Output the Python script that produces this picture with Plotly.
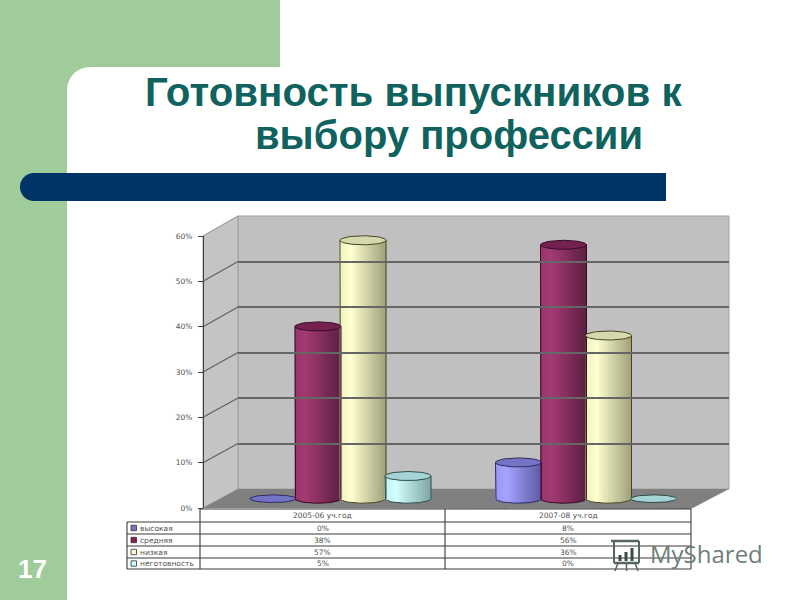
import numpy as np
import plotly.graph_objects as go

# ---------- data ----------
periods = ["2005-06 уч.год", "2007-08 уч.год"]
levels = ["высокая", "средняя", "низкая", "неготовность"]
vysokaya = [0, 8]
srednyaya = [38, 56]
nizkaya = [57, 36]
negotovnost = [5, 0]
tick_values = [0, 10, 20, 30, 40, 50, 60]
tick_labels = ["0%", "10%", "20%", "30%", "40%", "50%", "60%"]
title_lines = ["Готовность выпускников к", "выбору профессии"]
slide_number = "17"
watermark = "MyShared"

series = [vysokaya, srednyaya, nizkaya, negotovnost]

# ---------- styles ----------
W, H = 800, 600
light = ["#a4a4ff", "#a33a72", "#ffffcf", "#d2ffff"]
dark = ["#5c5ca4", "#5c1f42", "#a0a07c", "#7fa6a6"]
cap = ["#7474c4", "#75214f", "#d6d8ae", "#a6d4d4"]
edge = ["#2c2c60", "#360c26", "#46461e", "#2c4c4c"]
swatch = ["#7878c0", "#802050", "#ffffcc", "#ccffff"]


def px(x):
    return x / W


def py(y):
    return 1 - y / H


def rect(x0, y0, x1, y1, color, **kw):
    return dict(type="rect", xref="paper", yref="paper", x0=px(x0), x1=px(x1), y0=py(y0), y1=py(y1),
                fillcolor=color, line=dict(width=0), layer=kw.get("layer", "below"))


def poly(points, fill, line="rgba(0,0,0,0)", width=0, layer="below"):
    d = "M " + " L ".join(f"{px(a):.5f},{py(b):.5f}" for a, b in points) + " Z"
    return dict(type="path", xref="paper", yref="paper", path=d, fillcolor=fill,
                line=dict(color=line, width=width), layer=layer)


def seg(x0, y0, x1, y1, color, width=1, layer="below"):
    return dict(type="line", xref="paper", yref="paper", x0=px(x0), x1=px(x1), y0=py(y0), y1=py(y1),
                line=dict(color=color, width=width), layer=layer)


shapes = []
GREEN = "#a0cc9b"
shapes += [rect(0, 0, 67, 600, GREEN), rect(0, 0, 280, 67, GREEN)]
# rounded inner corner of the white panel
corner = [(67, 67), (67, 90)] + [(67 + 23 - 23 * np.cos(a), 90 - 23 * np.sin(a)) for a in np.linspace(0, np.pi / 2, 12)]
shapes.append(poly(corner[0:1] + corner[1:] + [(90, 67)], GREEN))
# navy bar
navy = "#003366"
shapes.append(rect(34, 173, 666, 201, navy))
shapes.append(dict(type="circle", xref="paper", yref="paper", x0=px(20), x1=px(48), y0=py(173), y1=py(201),
                   fillcolor=navy, line=dict(width=0), layer="below"))

# 3D box of the chart
shapes.append(poly([(238, 216), (729, 216), (729, 489), (238, 489)], "#c0c0c0", "#a0a0a0", 1))
shapes.append(poly([(203, 236), (238, 216), (238, 489), (203, 508)], "#c4c4c4", "#a0a0a0", 1))
shapes.append(poly([(203, 508), (238, 489), (729, 489), (691, 509)], "#808080"))
for v in tick_values[1:-1]:
    shapes.append(seg(203, 508 - v * 272 / 60, 238, 489 - v * 273 / 60, "#606060", 1.2))
shapes.append(seg(203, 236, 238, 216, "#a0a0a0", 1))

# table
TX = [127, 200, 445, 691]
TY = [509, 522, 534, 546, 558, 569]
TC = "#3a3a3a"
for y in TY[1:]:
    shapes.append(seg(TX[0], y, TX[3], y, TC, 1.1))
shapes.append(seg(TX[1], TY[0], TX[3], TY[0], TC, 1.1))
shapes.append(seg(TX[0], TY[1], TX[0], TY[5], TC, 1.1))
for x in TX[1:]:
    shapes.append(seg(x, TY[0], x, TY[5], TC, 1.1))
for i in range(4):
    yc = (TY[i + 1] + TY[i + 2]) / 2
    shapes.append(dict(type="rect", xref="paper", yref="paper", x0=px(131), x1=px(136.5), y0=py(yc - 2.7), y1=py(yc + 2.7),
                       fillcolor=swatch[i], line=dict(color="#303030", width=0.8), layer="below"))

# watermark pictogram
WM = "#56665e"
for s in [
    seg(611, 541, 639, 541, WM, 2.5, "above"),
    seg(614, 541, 614, 563, WM, 2, "above"),
    seg(639, 541, 639, 563, WM, 2, "above"),
    seg(614, 563, 639, 563, WM, 2.5, "above"),
    seg(618, 563, 615, 571, WM, 1.5, "above"),
    seg(635, 563, 638, 571, WM, 1.5, "above"),
    seg(626.5, 563, 626.5, 571, WM, 1.5, "above"),
    seg(620, 555, 620, 561, "#3c4a44", 3, "above"),
    seg(626, 552, 626, 561, "#3c4a44", 3, "above"),
    seg(632, 548, 632, 561, "#3c4a44", 3, "above"),
]:
    shapes.append(s)

# ---------- annotations ----------
annotations = []


def note(x, y, text, size, color, bold=False, anchor="left", family="Liberation Sans"):
    annotations.append(dict(xref="paper", yref="paper", x=px(x), y=py(y), text=f"<b>{text}</b>" if bold else text,
                            showarrow=False, xanchor=anchor, yanchor="middle",
                            font=dict(size=size, color=color, family=family)))


TITLE = "#0f625e"
note(143, 92, title_lines[0], 40.3, TITLE, True)
note(253, 135, title_lines[1], 40, TITLE, True)
note(32, 569, slide_number, 26, "white", True, "center")
note(648, 553, watermark, 24, "#6f7f78", False, "left", "Open Sans")

TXT = "#505050"
for i, name in enumerate(periods):
    note((TX[i + 1] + TX[i + 2]) / 2, (TY[0] + TY[1]) / 2, name, 7.5, TXT, False, "center", "DejaVu Sans")
for r, name in enumerate(levels):
    yc = (TY[r + 1] + TY[r + 2]) / 2
    note(138, yc, name, 7.5, TXT, False, "left", "DejaVu Sans")
    for c in range(2):
        note((TX[c + 1] + TX[c + 2]) / 2, yc, f"{series[r][c]}%", 7.5, TXT, False, "center", "DejaVu Sans")

# ---------- traces ----------
fig = go.Figure()
PX_PER_GROUP = 245.5
BAR_W = 46 / PX_PER_GROUP
STEP = 45 / PX_PER_GROUP
PPU = 272 / 60
ZERO_Y = 498.7
EH = 4.5 / PPU  # ellipse half height in value units
N = 18


def mix(a, b, t):
    ca = [int(a[i:i + 2], 16) for i in (1, 3, 5)]
    cb = [int(b[i:i + 2], 16) for i in (1, 3, 5)]
    return "rgb(" + ",".join(str(int(p + (q - p) * t)) for p, q in zip(ca, cb)) + ")"


for s, vals in enumerate(series):
    xs, ys, bases, cols = [], [], [], []
    for g, v in enumerate(vals):
        cx = g + (s - 1.5) * STEP
        if v > 0:
            for k in range(N):
                t = -1 + (2 * k + 1) / N
                xs.append(cx + t * BAR_W / 2)
                b = -EH * np.sqrt(max(0.0, 1 - t * t))
                bases.append(b)
                ys.append(v - b)
                if t < -0.5:
                    cols.append(mix(light[s], dark[s], (-0.5 - t) * 0.3))
                else:
                    cols.append(mix(light[s], dark[s], (t + 0.5) / 1.5))
    if xs:
        fig.add_trace(go.Bar(x=xs, y=ys, base=bases, width=BAR_W / N * 1.25, marker=dict(color=cols, line=dict(width=0)),
                             xaxis="x", yaxis="y", hoverinfo="skip", showlegend=False))

for s, vals in enumerate(series):
    for g, v in enumerate(vals):
        cx = g + (s - 1.5) * STEP
        a = np.linspace(0, 2 * np.pi, 60)
        fig.add_trace(go.Scatter(x=cx + BAR_W / 2 * np.cos(a), y=v + EH * (0.85 if v == 0 else 1) * np.sin(a),
                                 mode="lines", fill="toself", fillcolor=cap[s],
                                 line=dict(color=edge[s], width=1), hoverinfo="skip", showlegend=False))
        if v > 0:
            arc = np.linspace(np.pi, 2 * np.pi, 30)
            ox = np.concatenate([[cx - BAR_W / 2], cx + BAR_W / 2 * np.cos(arc), [cx + BAR_W / 2]])
            oy = np.concatenate([[v], EH * np.sin(arc), [v]])
            fig.add_trace(go.Scatter(x=ox, y=oy, mode="lines", line=dict(color=edge[s], width=1),
                                     hoverinfo="skip", showlegend=False))

# helper traces that make the tick axis and the wall grid appear
fig.add_trace(go.Scatter(x=[0, 1], y=[0, 60], yaxis="y2", xaxis="x", mode="markers", marker=dict(opacity=0),
                         hoverinfo="skip", showlegend=False))
fig.add_trace(go.Scatter(x=[0, 1], y=[0, 60], yaxis="y3", xaxis="x2", mode="markers", marker=dict(opacity=0),
                         hoverinfo="skip", showlegend=False))

cx0 = 340.5 - 0.5 * PX_PER_GROUP
fig.update_layout(
    width=W, height=H, margin=dict(l=0, r=0, t=0, b=0, pad=0, autoexpand=False), autosize=False,
    paper_bgcolor="white", plot_bgcolor="rgba(0,0,0,0)", barmode="overlay", showlegend=False,
    shapes=shapes, annotations=annotations,
    xaxis=dict(domain=[px(cx0), px(cx0 + 2 * PX_PER_GROUP)], range=[-0.5, 1.5], visible=False, fixedrange=True),
    xaxis2=dict(domain=[px(238), px(729)], range=[0, 1], visible=False, anchor="y3"),
    yaxis=dict(domain=[py(ZERO_Y + 2 * PPU), py(ZERO_Y - 60 * PPU)], range=[-2, 60], visible=False),
    yaxis2=dict(domain=[py(508), py(236)], range=[0, 60], anchor="free", position=px(203),
                tickmode="array", tickvals=tick_values, ticktext=tick_labels, ticks="outside", ticklen=5,
                ticklabelstandoff=4,
                tickcolor="#404040", showline=True, linecolor="#404040", linewidth=1, showgrid=False, zeroline=False,
                tickfont=dict(size=7.5, color="#505050", family="DejaVu Sans")),
    yaxis3=dict(domain=[py(489), py(216)], range=[0, 60], anchor="x2", tickmode="array",
                tickvals=tick_values, showgrid=True, gridcolor="#666666", gridwidth=1.5, zeroline=False,
                showticklabels=False, ticks=""),
)

fig.write_html("out.html", config={"displayModeBar": False},
               post_script="document.body.style.margin='0';document.body.style.overflow='hidden';")
